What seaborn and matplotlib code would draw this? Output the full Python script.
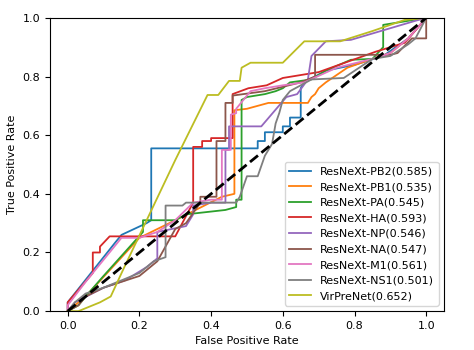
import matplotlib
matplotlib.use("Agg")
import matplotlib.pyplot as plt
import seaborn as sns
import pandas as pd

# ROC points
fpr_pb2 = [0, 0, 0.13, 0.15, 0.22, 0.233, 0.233, 0.50, 0.53, 0.53, 0.55, 0.55, 0.60, 0.60, 0.62, 0.62, 0.65, 0.65, 0.66, 0.72, 0.80, 0.88, 0.95, 1]
tpr_pb2 = [0, 0.03, 0.23, 0.26, 0.30, 0.31, 0.555, 0.555, 0.555, 0.58, 0.58, 0.61, 0.61, 0.63, 0.63, 0.66, 0.66, 0.76, 0.78, 0.82, 0.84, 0.87, 0.93, 1]

fpr_pb1 = [0, 0.02, 0.05, 0.20, 0.30, 0.43, 0.465, 0.465, 0.50, 0.56, 0.67, 0.68, 0.69, 0.70, 0.72, 0.78, 0.85, 0.90, 0.95, 1]
tpr_pb1 = [0, 0.02, 0.05, 0.25, 0.31, 0.39, 0.40, 0.685, 0.69, 0.71, 0.71, 0.73, 0.74, 0.76, 0.78, 0.83, 0.86, 0.88, 0.93, 1]

fpr_pa = [0, 0.03, 0.05, 0.10, 0.21, 0.21, 0.30, 0.33, 0.44, 0.47, 0.47, 0.485, 0.485, 0.50, 0.55, 0.58, 0.60, 0.62, 0.68, 0.72, 0.79, 0.85, 0.88, 0.88, 0.95, 1]
tpr_pa = [0, 0.02, 0.05, 0.12, 0.27, 0.31, 0.31, 0.33, 0.345, 0.355, 0.38, 0.38, 0.72, 0.73, 0.74, 0.75, 0.76, 0.78, 0.79, 0.82, 0.857, 0.86, 0.90, 0.976, 0.99, 1]

fpr_ha = [0, 0, 0.07, 0.07, 0.09, 0.09, 0.117, 0.30, 0.35, 0.35, 0.375, 0.375, 0.40, 0.40, 0.46, 0.46, 0.504, 0.555, 0.60, 0.70, 0.78, 0.86, 0.94, 1]
tpr_ha = [0, 0.03, 0.13, 0.20, 0.20, 0.22, 0.255, 0.255, 0.37, 0.56, 0.56, 0.58, 0.58, 0.59, 0.59, 0.74, 0.76, 0.77, 0.795, 0.815, 0.85, 0.885, 0.915, 1]

fpr_np = [0, 0.02, 0.10, 0.16, 0.22, 0.25, 0.25, 0.33, 0.35, 0.35, 0.40, 0.44, 0.44, 0.45, 0.45, 0.54, 0.61, 0.64, 0.67, 0.68, 0.72, 0.79, 0.97, 1]
tpr_np = [0, 0.03, 0.08, 0.105, 0.15, 0.18, 0.27, 0.29, 0.33, 0.36, 0.37, 0.37, 0.55, 0.55, 0.63, 0.63, 0.73, 0.74, 0.79, 0.87, 0.92, 0.925, 0.99, 1]

fpr_na = [0, 0.03, 0.05, 0.10, 0.20, 0.25, 0.30, 0.33, 0.37, 0.37, 0.415, 0.415, 0.44, 0.44, 0.46, 0.46, 0.55, 0.65, 0.69, 0.69, 0.90, 0.92, 0.96, 1.0, 1.0]
tpr_na = [0, 0.02, 0.05, 0.08, 0.12, 0.17, 0.28, 0.30, 0.37, 0.39, 0.39, 0.58, 0.58, 0.71, 0.71, 0.735, 0.75, 0.78, 0.80, 0.874, 0.874, 0.88, 0.93, 0.93, 1.0]

fpr_m1 = [0, 0, 0.05, 0.13, 0.15, 0.20, 0.25, 0.30, 0.35, 0.40, 0.43, 0.43, 0.455, 0.455, 0.47, 0.47, 0.51, 0.55, 0.60, 0.66, 0.75, 0.85, 0.90, 0.95, 1]
tpr_m1 = [0, 0.02, 0.10, 0.22, 0.25, 0.25, 0.27, 0.31, 0.37, 0.38, 0.38, 0.55, 0.55, 0.67, 0.675, 0.69, 0.75, 0.76, 0.77, 0.78, 0.83, 0.86, 0.88, 0.93, 1]

fpr_ns1 = [0, 0.02, 0.05, 0.10, 0.20, 0.24, 0.273, 0.273, 0.32, 0.33, 0.42, 0.47, 0.48, 0.50, 0.53, 0.55, 0.57, 0.58, 0.59, 0.60, 0.62, 0.68, 0.77, 0.85, 0.90, 0.95, 0.97, 1]
tpr_ns1 = [0, 0.03, 0.06, 0.08, 0.13, 0.17, 0.184, 0.36, 0.36, 0.37, 0.37, 0.37, 0.39, 0.46, 0.46, 0.53, 0.57, 0.64, 0.675, 0.72, 0.75, 0.79, 0.795, 0.86, 0.87, 0.91, 0.93, 1]

fpr_vir = [0, 0.03, 0.09, 0.12, 0.156, 0.30, 0.39, 0.42, 0.45, 0.48, 0.485, 0.51, 0.60, 0.66, 0.76, 0.85, 0.94, 1]
tpr_vir = [0, 0, 0.03, 0.05, 0.145, 0.515, 0.737, 0.737, 0.785, 0.785, 0.83, 0.847, 0.847, 0.92, 0.92, 0.955, 0.993, 1]

labels = ["ResNeXt-PB2(0.585)", "ResNeXt-PB1(0.535)", "ResNeXt-PA(0.545)",
          "ResNeXt-HA(0.593)", "ResNeXt-NP(0.546)", "ResNeXt-NA(0.547)",
          "ResNeXt-M1(0.561)", "ResNeXt-NS1(0.501)", "VirPreNet(0.652)"]

curves = [(fpr_pb2, tpr_pb2), (fpr_pb1, tpr_pb1), (fpr_pa, tpr_pa),
          (fpr_ha, tpr_ha), (fpr_np, tpr_np), (fpr_na, tpr_na),
          (fpr_m1, tpr_m1), (fpr_ns1, tpr_ns1), (fpr_vir, tpr_vir)]

# long format for seaborn
frames = []
for label, (fpr, tpr) in zip(labels, curves):
    frames.append(pd.DataFrame({"fpr": fpr, "tpr": tpr, "model": label}))
df = pd.concat(frames, ignore_index=True)

plt.rcParams["font.size"] = 8

fig, ax = plt.subplots(figsize=(4.74, 3.5), dpi=100)
fig.subplots_adjust(left=0.105, right=0.937, top=0.949, bottom=0.111)

sns.lineplot(data=df, x="fpr", y="tpr", hue="model", hue_order=labels,
             palette="tab10", sort=False, estimator=None, linewidth=1.3, ax=ax)
ax.plot([0, 1], [0, 1], color="black", linestyle="--", linewidth=2)

ax.set_xlim(-0.05, 1.05)
ax.set_ylim(0.0, 1.0)
ax.set_xlabel("False Positive Rate")
ax.set_ylabel("True Positive Rate")
ax.legend(loc="lower right", fontsize=8)

plt.savefig("out.png", dpi=100)
